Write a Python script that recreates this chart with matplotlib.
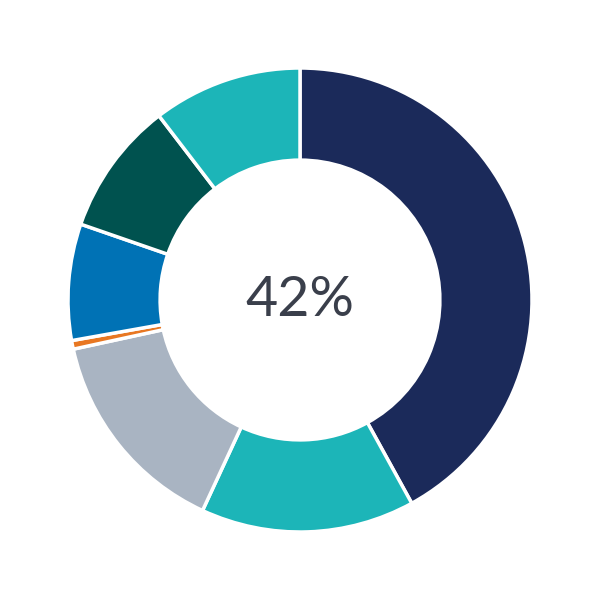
import matplotlib
matplotlib.use('Agg')
import matplotlib.pyplot as plt

segments = ['A', 'B', 'C', 'D', 'E', 'F', 'G']
values = [42.0, 14.9, 14.7, 0.6, 8.1, 9.3, 10.4]
colors = ['#1b2a5a', '#1cb5b8', '#a9b4c2', '#e87722', '#0072b5', '#00524f', '#1cb5b8']
center_label = '42%'

fig = plt.figure(figsize=(6, 6), dpi=100)
ax = fig.add_axes([0, 0, 1, 1])

ax.pie(values, colors=colors, startangle=90, counterclock=False,
       radius=1.0,
       wedgeprops=dict(width=0.397, edgecolor='white', linewidth=2.5))

ax.text(0, 0, center_label, ha='center', va='center', fontsize=40,
        color='#3a3f4b', family=['Lato', 'DejaVu Sans'])

lim = 300 / 232
ax.set_xlim(-lim, lim)
ax.set_ylim(-lim, lim)
ax.set_aspect('equal')
ax.axis('off')

fig.savefig('out.png', dpi=100, facecolor='white')
